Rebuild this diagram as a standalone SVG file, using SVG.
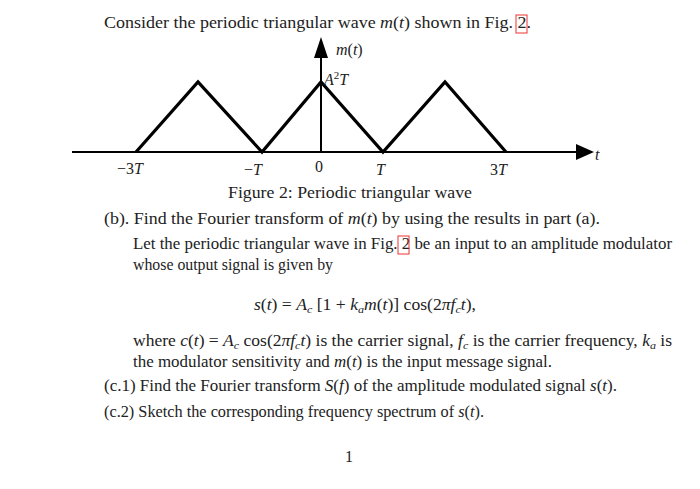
<svg xmlns="http://www.w3.org/2000/svg" width="700" height="489" viewBox="0 0 700 489">
<style>
text{font-family:"Liberation Serif","DejaVu Serif",serif;font-size:16px;fill:#222}
.i{font-style:italic}
.s{font-size:11px;font-style:italic}
.ref{fill:none;stroke:#e33;stroke-width:1}
.ax{stroke:#000;stroke-width:2;fill:none}
.w{stroke:#000;stroke-width:3.2;fill:none;stroke-linejoin:miter}
</style>
<rect width="700" height="489" fill="#fff"/>
<text x="104" y="28" textLength="427" lengthAdjust="spacingAndGlyphs">Consider the periodic triangular wave <tspan class="i">m</tspan>(<tspan class="i">t</tspan>) shown in Fig. 2.</text>
<rect class="ref" x="516" y="15" width="11" height="18"/>
<g id="plot">
<line class="ax" x1="72" y1="152" x2="578" y2="152"/>
<polygon points="576,144 594,152 576,160" fill="#000"/>
<line class="ax" x1="321" y1="152" x2="321" y2="56"/>
<polygon points="314,58 321,37 328,58" fill="#000"/>
<polyline class="w" points="136,152 198,82 262,152 321,82 383,152 445,82 506,152"/>
<text x="336" y="55"><tspan class="i">m</tspan>(<tspan class="i">t</tspan>)</text>
<text x="324" y="85"><tspan class="i">A</tspan><tspan font-size="11" dy="-6">2</tspan><tspan class="i" dy="6">T</tspan></text>
<text class="i" x="595" y="160" font-size="14">t</text>
<text x="117" y="174">−3<tspan class="i">T</tspan></text>
<text x="244" y="175">−<tspan class="i">T</tspan></text>
<text x="315" y="172">0</text>
<text class="i" x="376" y="175">T</text>
<text x="490" y="175">3<tspan class="i">T</tspan></text>
</g>
<text x="228" y="198" textLength="244" lengthAdjust="spacingAndGlyphs">Figure 2: Periodic triangular wave</text>
<text x="104" y="224" textLength="496" lengthAdjust="spacingAndGlyphs">(b). Find the Fourier transform of <tspan class="i">m</tspan>(<tspan class="i">t</tspan>) by using the results in part (a).</text>
<text x="133" y="249" textLength="539" lengthAdjust="spacingAndGlyphs">Let the periodic triangular wave in Fig. 2 be an input to an amplitude modulator</text>
<rect class="ref" x="398" y="236" width="11" height="18"/>
<text x="133" y="270" textLength="200" lengthAdjust="spacingAndGlyphs">whose output signal is given by</text>
<text x="254" y="310" textLength="222" lengthAdjust="spacingAndGlyphs"><tspan class="i">s</tspan>(<tspan class="i">t</tspan>) = <tspan class="i">A</tspan><tspan class="s" dy="3">c</tspan><tspan dy="-3"> [1 + </tspan><tspan class="i">k</tspan><tspan class="s" dy="3">a</tspan><tspan class="i" dy="-3">m</tspan>(<tspan class="i">t</tspan>)] cos(2<tspan class="i">πf</tspan><tspan class="s" dy="3">c</tspan><tspan class="i" dy="-3">t</tspan>),</text>
<text x="133" y="346" textLength="539" lengthAdjust="spacingAndGlyphs">where <tspan class="i">c</tspan>(<tspan class="i">t</tspan>) = <tspan class="i">A</tspan><tspan class="s" dy="3">c</tspan><tspan dy="-3"> cos(2</tspan><tspan class="i">πf</tspan><tspan class="s" dy="3">c</tspan><tspan class="i" dy="-3">t</tspan>) is the carrier signal, <tspan class="i">f</tspan><tspan class="s" dy="3">c</tspan><tspan dy="-3"> is the carrier frequency, </tspan><tspan class="i">k</tspan><tspan class="s" dy="3">a</tspan><tspan dy="-3"> is</tspan></text>
<text x="133" y="367" textLength="419" lengthAdjust="spacingAndGlyphs">the modulator sensitivity and <tspan class="i">m</tspan>(<tspan class="i">t</tspan>) is the input message signal.</text>
<text x="104" y="391" textLength="513" lengthAdjust="spacingAndGlyphs">(c.1) Find the Fourier transform <tspan class="i">S</tspan>(<tspan class="i">f</tspan>) of the amplitude modulated signal <tspan class="i">s</tspan>(<tspan class="i">t</tspan>).</text>
<text x="104" y="417" textLength="380" lengthAdjust="spacingAndGlyphs">(c.2) Sketch the corresponding frequency spectrum of <tspan class="i">s</tspan>(<tspan class="i">t</tspan>).</text>
<text x="345" y="462">1</text>
</svg>
